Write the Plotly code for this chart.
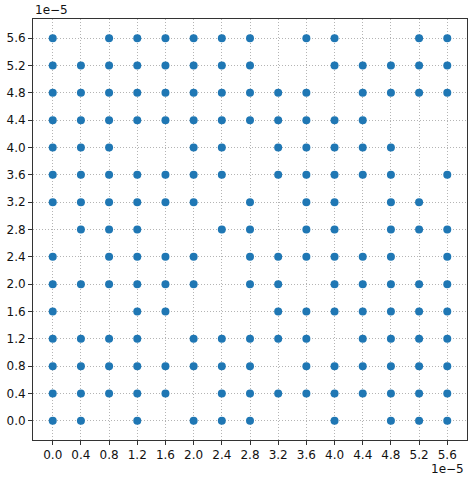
import plotly.graph_objects as go

SCALE = 1e-5
tick_labels = ["0.0", "0.4", "0.8", "1.2", "1.6", "2.0", "2.4", "2.8",
               "3.2", "3.6", "4.0", "4.4", "4.8", "5.2", "5.6"]
tick_values = [float(t) for t in tick_labels]

# x positions (in units of 1e-5) of the points present in each row (y, in units of 1e-5)
row_5_6 = [0.0, 0.8, 1.2, 1.6, 2.0, 2.4, 2.8, 3.6, 4.0, 5.2, 5.6]
row_5_2 = [0.0, 0.4, 0.8, 1.2, 1.6, 2.0, 2.4, 2.8, 4.0, 4.4, 4.8, 5.2, 5.6]
row_4_8 = [0.0, 0.4, 0.8, 1.2, 1.6, 2.0, 2.4, 2.8, 3.2, 3.6, 4.4, 4.8, 5.2, 5.6]
row_4_4 = [0.0, 0.4, 0.8, 1.2, 1.6, 2.0, 2.4, 2.8, 3.2, 3.6, 4.0, 4.4]
row_4_0 = [0.0, 0.4, 0.8, 2.0, 2.4, 3.2, 3.6, 4.0, 4.4, 4.8]
row_3_6 = [0.0, 0.4, 0.8, 1.2, 1.6, 2.0, 2.4, 3.2, 3.6, 4.0, 4.4, 4.8, 5.6]
row_3_2 = [0.0, 0.4, 0.8, 1.2, 1.6, 2.0, 2.8, 3.6, 4.0, 4.8, 5.2]
row_2_8 = [0.4, 0.8, 1.2, 2.4, 2.8, 3.6, 4.0, 4.8, 5.2, 5.6]
row_2_4 = [0.0, 0.8, 1.2, 1.6, 2.0, 2.8, 3.2, 3.6, 4.0, 4.4, 4.8, 5.6]
row_2_0 = [0.0, 0.4, 0.8, 1.2, 1.6, 2.0, 2.8, 3.2, 4.0, 4.4, 4.8, 5.2, 5.6]
row_1_6 = [0.0, 1.2, 1.6, 3.2, 3.6, 4.0, 4.4, 4.8, 5.2, 5.6]
row_1_2 = [0.0, 0.4, 0.8, 1.2, 2.0, 2.4, 2.8, 3.2, 3.6, 4.4, 4.8, 5.2, 5.6]
row_0_8 = [0.0, 0.4, 0.8, 1.2, 1.6, 2.0, 2.4, 2.8, 3.6, 4.0, 4.4, 4.8, 5.2, 5.6]
row_0_4 = [0.0, 0.4, 0.8, 1.2, 1.6, 2.4, 2.8, 3.2, 3.6, 4.0, 4.4, 4.8, 5.2, 5.6]
row_0_0 = [0.0, 0.4, 1.2, 2.0, 2.4, 2.8, 4.0, 4.8, 5.2, 5.6]

rows = {
    5.6: row_5_6, 5.2: row_5_2, 4.8: row_4_8, 4.4: row_4_4, 4.0: row_4_0,
    3.6: row_3_6, 3.2: row_3_2, 2.8: row_2_8, 2.4: row_2_4, 2.0: row_2_0,
    1.6: row_1_6, 1.2: row_1_2, 0.8: row_0_8, 0.4: row_0_4, 0.0: row_0_0,
}

xs, ys = [], []
for yv, xlist in rows.items():
    for xv in xlist:
        xs.append(xv * SCALE)
        ys.append(yv * SCALE)

fig = go.Figure(go.Scatter(
    x=xs, y=ys, mode="markers",
    marker=dict(color="#1f77b4", size=8, line=dict(width=0)),
    hoverinfo="x+y",
))

rng = [-0.28 * SCALE, 5.88 * SCALE]
axis_common = dict(
    range=rng,
    tickmode="array",
    tickvals=[v * SCALE for v in tick_values],
    ticktext=tick_labels,
    showgrid=True, gridcolor="#b4b4b4", griddash="1px,2px", gridwidth=1,
    zeroline=False,
    showline=True, linecolor="#333333", linewidth=1, mirror=True,
    ticks="outside", ticklen=4, tickcolor="#333333", tickwidth=1,
    tickfont=dict(family="DejaVu Sans", size=12, color="#111111"),
)

fig.update_layout(
    width=474, height=482,
    margin=dict(l=33, r=7, t=19, b=42),
    plot_bgcolor="white", paper_bgcolor="white",
    showlegend=False,
    xaxis=axis_common,
    yaxis=axis_common,
    annotations=[
        dict(text="1e\u22125", xref="paper", yref="paper", x=0, y=1,
             xanchor="left", yanchor="bottom", yshift=0, showarrow=False,
             font=dict(family="DejaVu Sans", size=12, color="#111111")),
        dict(text="1e\u22125", xref="paper", yref="paper", x=1, y=0,
             xanchor="right", yanchor="top", yshift=-20, xshift=-1,
             showarrow=False,
             font=dict(family="DejaVu Sans", size=12, color="#111111")),
    ],
)

fig.write_html(
    "out.html",
    config={"displayModeBar": False},
    post_script="document.body.style.margin='0';document.body.style.overflow='hidden';",
)
